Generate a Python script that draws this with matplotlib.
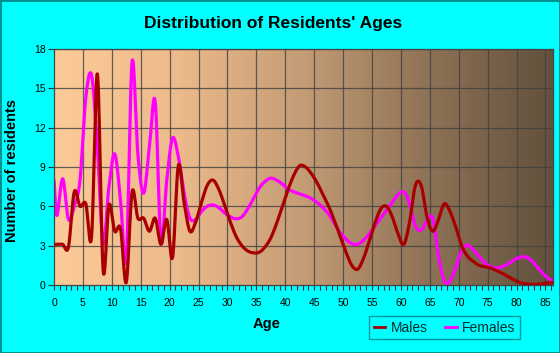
import numpy as np
import matplotlib
matplotlib.use("Agg")
import matplotlib.pyplot as plt
from matplotlib.colors import LinearSegmentedColormap
from matplotlib.ticker import MultipleLocator
from matplotlib.lines import Line2D

plt.rcParams['font.family'] = ['Liberation Sans', 'DejaVu Sans']

# ---- data (age position, number of residents) ----
age_pos = np.concatenate([[0.0], np.arange(86) + 0.5, [86.3]])

males = [3.1,
         3.1, 3.1, 2.9, 7.1, 6.0, 6.2, 3.7, 16.1, 1.1, 6.1,
         4.1, 4.3, 0.2, 7.1, 5.1, 5.1, 4.1, 5.1, 3.1, 5.0,
         2.1, 9.1, 6.3, 4.1, 4.8, 6.3, 7.6, 8.0, 7.3, 6.1,
         4.8, 3.7, 3.0, 2.6, 2.45, 2.5, 2.9, 3.6, 4.7, 6.0,
         7.3, 8.4, 9.1, 9.0, 8.5, 7.8, 6.9, 6.0, 4.9, 3.7,
         2.5, 1.5, 1.2, 2.0, 3.3, 4.7, 5.8, 6.0, 5.2, 3.9,
         3.1, 4.8, 7.6, 7.6, 5.2, 4.1, 5.0, 6.2, 5.6, 4.4,
         3.0, 2.2, 1.8, 1.5, 1.4, 1.3, 1.1, 0.9, 0.65, 0.4,
         0.2, 0.1, 0.05, 0.05, 0.1, 0.15,
         0.2]

females = [8.0,
           5.3, 8.1, 5.0, 6.0, 8.0, 14.3, 16.0, 10.5, 3.2, 7.5,
           10.0, 6.5, 2.0, 17.0, 10.0, 7.0, 10.5, 14.0, 3.3, 8.0,
           11.2, 9.8, 7.0, 5.1, 5.0, 5.6, 6.0, 6.1, 5.9, 5.5,
           5.2, 5.05, 5.2, 5.8, 6.6, 7.4, 7.9, 8.15, 8.0, 7.7,
           7.3, 7.1, 6.95, 6.8, 6.6, 6.3, 5.9, 5.4, 4.7, 4.0,
           3.5, 3.15, 3.1, 3.4, 3.9, 4.5, 5.1, 5.7, 6.3, 6.9,
           7.1, 6.2, 4.5, 4.2, 4.9, 5.1, 2.2, 0.3, 0.3, 1.4,
           2.6, 3.05, 2.7, 2.2, 1.7, 1.4, 1.3, 1.4, 1.6, 1.9,
           2.1, 2.15, 1.9, 1.4, 0.9, 0.5,
           0.3]

x_ticks = list(range(0, 90, 5))
y_ticks = list(range(0, 19, 3))
series_names = ["Males", "Females"]
series_colors = ["#A80000", "#FF00FF"]


def catmull_rom(x, y, n=24):
    x = np.asarray(x, float)
    y = np.asarray(y, float)
    px = np.concatenate([[2 * x[0] - x[1]], x, [2 * x[-1] - x[-2]]])
    py = np.concatenate([[2 * y[0] - y[1]], y, [2 * y[-1] - y[-2]]])
    xs, ys = [], []
    t = np.linspace(0, 1, n, endpoint=False)
    for i in range(1, len(px) - 2):
        for arr, out in ((px, xs), (py, ys)):
            p0, p1, p2, p3 = arr[i - 1], arr[i], arr[i + 1], arr[i + 2]
            out.append(0.5 * ((2 * p1) + (-p0 + p2) * t
                              + (2 * p0 - 5 * p1 + 4 * p2 - p3) * t ** 2
                              + (-p0 + 3 * p1 - 3 * p2 + p3) * t ** 3))
    xs.append([x[-1]])
    ys.append([y[-1]])
    return np.concatenate(xs), np.concatenate(ys)


fig = plt.figure(figsize=(5.6, 3.53), dpi=100)
fig.patch.set_facecolor("#00FFFF")
fig.patch.set_edgecolor("#009090")
fig.patch.set_linewidth(2)

ax = fig.add_axes([54 / 560, 68 / 353, 499 / 560, 236 / 353])
xmax = 86.3
ax.set_xlim(0, xmax)
ax.set_ylim(0, 18)

cmap = LinearSegmentedColormap.from_list("bg", [
    (0.0, "#FDCB98"), (0.25, "#ECBA8B"), (0.5, "#C49C75"),
    (0.75, "#8E7256"), (1.0, "#62513D")])
grad = np.linspace(0, 1, 256).reshape(1, -1)
ax.imshow(grad, cmap=cmap, aspect="auto", extent=(0, xmax, 0, 18), zorder=0)

for v in x_ticks[1:]:
    ax.axvline(v, color="#404040", lw=0.9, alpha=0.8, zorder=1)
for v in y_ticks[1:]:
    ax.axhline(v, color="#404040", lw=0.9, alpha=0.8, zorder=1)

for vals, name, col in zip([males, females], series_names, series_colors):
    sx, sy = catmull_rom(age_pos, vals)
    ax.plot(sx, sy, color=col, lw=2.3, zorder=3 if name == "Males" else 2,
            solid_capstyle="round")

ax.set_xticks(x_ticks)
ax.set_yticks(y_ticks)
ax.xaxis.set_minor_locator(MultipleLocator(1))
ax.tick_params(axis="x", which="both", direction="out", length=3.5, width=0.8,
               color="#333333", labelsize=7.5, pad=6)
ax.tick_params(axis="y", which="major", direction="out", length=4, width=0.8,
               color="#333333", labelsize=7.5, pad=2)
for s in ax.spines.values():
    s.set_color("#444444")
    s.set_linewidth(0.9)

fig.text(0.487, 0.934, "Distribution of Residents' Ages", ha="center", va="center",
         fontsize=12.5, fontweight="bold")
fig.text(0.022, 0.518, "Number of residents", rotation=90, ha="center", va="center",
         fontsize=10.5, fontweight="bold")
fig.text(0.476, 0.082, "Age", ha="center", va="center", fontsize=10.5, fontweight="bold")

handles = [Line2D([], [], color=c, lw=2) for c in series_colors]
leg = fig.legend(handles, series_names, loc="center", bbox_to_anchor=(0.794, 0.072),
                 ncol=2, fontsize=10, frameon=True, fancybox=False, handlelength=0.8,
                 handletextpad=0.4, columnspacing=1.3, borderpad=0.35)
leg.get_frame().set_facecolor("#00FFFF")
leg.get_frame().set_edgecolor("#008080")
leg.get_frame().set_linewidth(1.0)
for t in leg.get_texts():
    t.set_color("#0b2b2b")

fig.savefig("out.png", dpi=100, facecolor=fig.get_facecolor(), edgecolor=fig.get_edgecolor())
